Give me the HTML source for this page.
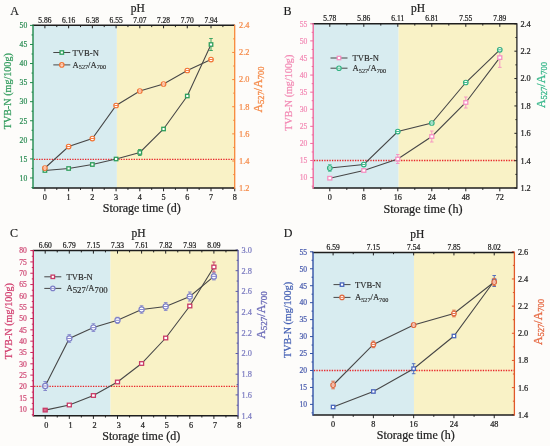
<!DOCTYPE html>
<html><head><meta charset="utf-8"><style>
html,body{margin:0;padding:0;background:#fff;}
svg{display:block;filter:blur(0.35px);}
</style></head><body>
<svg width="550" height="446" viewBox="0 0 550 446">
<rect width="550" height="446" fill="#fdfcfa"/>
<rect x="33" y="25.3" width="83.89" height="162.8" fill="#d8ecf0"/>
<rect x="116.89" y="25.3" width="117.81" height="162.8" fill="#f9f2c6"/>
<line x1="33.8" y1="159.39" x2="234.2" y2="159.39" stroke="#e8262a" stroke-width="1.35" stroke-dasharray="1.35 1.21"/>
<polyline points="44.9,170.5 68.63,168.5 92.36,164.5 116.09,159 139.82,152.5 163.55,129 187.28,96 211.01,44.5" fill="none" stroke="#474747" stroke-width="1.08"/>
<polyline points="44.9,168 68.63,146.5 92.36,138.5 116.09,105.5 139.82,91 163.55,84 187.28,70.5 211.01,59.5" fill="none" stroke="#474747" stroke-width="1.08"/>
<line x1="44.9" y1="169.7" x2="44.9" y2="171.3" stroke="#2e9e5c" stroke-width="0.9" />
<line x1="43.1" y1="169.7" x2="46.7" y2="169.7" stroke="#2e9e5c" stroke-width="0.9" />
<line x1="43.1" y1="171.3" x2="46.7" y2="171.3" stroke="#2e9e5c" stroke-width="0.9" />
<rect x="43.15" y="168.8" width="3.5" height="3.4" fill="#fff" stroke="#2e9e5c" stroke-width="1.3"/>
<rect x="66.88" y="166.8" width="3.5" height="3.4" fill="#fff" stroke="#2e9e5c" stroke-width="1.3"/>
<line x1="92.36" y1="163" x2="92.36" y2="166" stroke="#2e9e5c" stroke-width="0.9" />
<line x1="90.56" y1="163" x2="94.16" y2="163" stroke="#2e9e5c" stroke-width="0.9" />
<line x1="90.56" y1="166" x2="94.16" y2="166" stroke="#2e9e5c" stroke-width="0.9" />
<rect x="90.61" y="162.8" width="3.5" height="3.4" fill="#fff" stroke="#2e9e5c" stroke-width="1.3"/>
<rect x="114.34" y="157.3" width="3.5" height="3.4" fill="#fff" stroke="#2e9e5c" stroke-width="1.3"/>
<line x1="139.82" y1="149.5" x2="139.82" y2="155.5" stroke="#2e9e5c" stroke-width="0.9" />
<line x1="138.02" y1="149.5" x2="141.62" y2="149.5" stroke="#2e9e5c" stroke-width="0.9" />
<line x1="138.02" y1="155.5" x2="141.62" y2="155.5" stroke="#2e9e5c" stroke-width="0.9" />
<rect x="138.07" y="150.8" width="3.5" height="3.4" fill="#fff" stroke="#2e9e5c" stroke-width="1.3"/>
<rect x="161.8" y="127.3" width="3.5" height="3.4" fill="#fff" stroke="#2e9e5c" stroke-width="1.3"/>
<rect x="185.53" y="94.3" width="3.5" height="3.4" fill="#fff" stroke="#2e9e5c" stroke-width="1.3"/>
<line x1="211.01" y1="38.5" x2="211.01" y2="50.5" stroke="#2e9e5c" stroke-width="0.9" />
<line x1="209.21" y1="38.5" x2="212.81" y2="38.5" stroke="#2e9e5c" stroke-width="0.9" />
<line x1="209.21" y1="50.5" x2="212.81" y2="50.5" stroke="#2e9e5c" stroke-width="0.9" />
<rect x="209.26" y="42.8" width="3.5" height="3.4" fill="#fff" stroke="#2e9e5c" stroke-width="1.3"/>
<circle cx="44.9" cy="168" r="2.3" fill="#fff" stroke="#f27434" stroke-width="1.15"/>
<line x1="43" y1="168" x2="46.8" y2="168" stroke="#f27434" stroke-width="0.9" />
<circle cx="68.63" cy="146.5" r="2.3" fill="#fff" stroke="#f27434" stroke-width="1.15"/>
<line x1="66.73" y1="146.5" x2="70.53" y2="146.5" stroke="#f27434" stroke-width="0.9" />
<line x1="92.36" y1="137.3" x2="92.36" y2="139.7" stroke="#f27434" stroke-width="0.9" />
<line x1="90.56" y1="137.3" x2="94.16" y2="137.3" stroke="#f27434" stroke-width="0.9" />
<line x1="90.56" y1="139.7" x2="94.16" y2="139.7" stroke="#f27434" stroke-width="0.9" />
<circle cx="92.36" cy="138.5" r="2.3" fill="#fff" stroke="#f27434" stroke-width="1.15"/>
<line x1="90.46" y1="138.5" x2="94.26" y2="138.5" stroke="#f27434" stroke-width="0.9" />
<line x1="116.09" y1="104" x2="116.09" y2="107" stroke="#f27434" stroke-width="0.9" />
<line x1="114.29" y1="104" x2="117.89" y2="104" stroke="#f27434" stroke-width="0.9" />
<line x1="114.29" y1="107" x2="117.89" y2="107" stroke="#f27434" stroke-width="0.9" />
<circle cx="116.09" cy="105.5" r="2.3" fill="#fff" stroke="#f27434" stroke-width="1.15"/>
<line x1="114.19" y1="105.5" x2="117.99" y2="105.5" stroke="#f27434" stroke-width="0.9" />
<circle cx="139.82" cy="91" r="2.3" fill="#fff" stroke="#f27434" stroke-width="1.15"/>
<line x1="137.92" y1="91" x2="141.72" y2="91" stroke="#f27434" stroke-width="0.9" />
<circle cx="163.55" cy="84" r="2.3" fill="#fff" stroke="#f27434" stroke-width="1.15"/>
<line x1="161.65" y1="84" x2="165.45" y2="84" stroke="#f27434" stroke-width="0.9" />
<line x1="187.28" y1="69" x2="187.28" y2="72" stroke="#f27434" stroke-width="0.9" />
<line x1="185.48" y1="69" x2="189.08" y2="69" stroke="#f27434" stroke-width="0.9" />
<line x1="185.48" y1="72" x2="189.08" y2="72" stroke="#f27434" stroke-width="0.9" />
<circle cx="187.28" cy="70.5" r="2.3" fill="#fff" stroke="#f27434" stroke-width="1.15"/>
<line x1="185.38" y1="70.5" x2="189.18" y2="70.5" stroke="#f27434" stroke-width="0.9" />
<circle cx="211.01" cy="59.5" r="2.3" fill="#fff" stroke="#f27434" stroke-width="1.15"/>
<line x1="209.11" y1="59.5" x2="212.91" y2="59.5" stroke="#f27434" stroke-width="0.9" />
<line x1="44.9" y1="188.1" x2="44.9" y2="191.3" stroke="#222" stroke-width="1" />
<text x="44.9" y="199.6" font-size="8.2" fill="#222" stroke="#222" stroke-width="0.22" text-anchor="middle" font-family='"Liberation Serif", serif' >0</text>
<line x1="68.63" y1="188.1" x2="68.63" y2="191.3" stroke="#222" stroke-width="1" />
<text x="68.63" y="199.6" font-size="8.2" fill="#222" stroke="#222" stroke-width="0.22" text-anchor="middle" font-family='"Liberation Serif", serif' >1</text>
<line x1="92.36" y1="188.1" x2="92.36" y2="191.3" stroke="#222" stroke-width="1" />
<text x="92.36" y="199.6" font-size="8.2" fill="#222" stroke="#222" stroke-width="0.22" text-anchor="middle" font-family='"Liberation Serif", serif' >2</text>
<line x1="116.09" y1="188.1" x2="116.09" y2="191.3" stroke="#222" stroke-width="1" />
<text x="116.09" y="199.6" font-size="8.2" fill="#222" stroke="#222" stroke-width="0.22" text-anchor="middle" font-family='"Liberation Serif", serif' >3</text>
<line x1="139.82" y1="188.1" x2="139.82" y2="191.3" stroke="#222" stroke-width="1" />
<text x="139.82" y="199.6" font-size="8.2" fill="#222" stroke="#222" stroke-width="0.22" text-anchor="middle" font-family='"Liberation Serif", serif' >4</text>
<line x1="163.55" y1="188.1" x2="163.55" y2="191.3" stroke="#222" stroke-width="1" />
<text x="163.55" y="199.6" font-size="8.2" fill="#222" stroke="#222" stroke-width="0.22" text-anchor="middle" font-family='"Liberation Serif", serif' >5</text>
<line x1="187.28" y1="188.1" x2="187.28" y2="191.3" stroke="#222" stroke-width="1" />
<text x="187.28" y="199.6" font-size="8.2" fill="#222" stroke="#222" stroke-width="0.22" text-anchor="middle" font-family='"Liberation Serif", serif' >6</text>
<line x1="211.01" y1="188.1" x2="211.01" y2="191.3" stroke="#222" stroke-width="1" />
<text x="211.01" y="199.6" font-size="8.2" fill="#222" stroke="#222" stroke-width="0.22" text-anchor="middle" font-family='"Liberation Serif", serif' >7</text>
<line x1="234.74" y1="188.1" x2="234.74" y2="191.3" stroke="#222" stroke-width="1" />
<text x="234.74" y="199.6" font-size="8.2" fill="#222" stroke="#222" stroke-width="0.22" text-anchor="middle" font-family='"Liberation Serif", serif' >8</text>
<line x1="56.77" y1="188.1" x2="56.77" y2="189.9" stroke="#222" stroke-width="1" />
<line x1="56.77" y1="25.3" x2="56.77" y2="27.1" stroke="#222" stroke-width="1" />
<line x1="80.5" y1="188.1" x2="80.5" y2="189.9" stroke="#222" stroke-width="1" />
<line x1="80.5" y1="25.3" x2="80.5" y2="27.1" stroke="#222" stroke-width="1" />
<line x1="104.23" y1="188.1" x2="104.23" y2="189.9" stroke="#222" stroke-width="1" />
<line x1="104.23" y1="25.3" x2="104.23" y2="27.1" stroke="#222" stroke-width="1" />
<line x1="127.95" y1="188.1" x2="127.95" y2="189.9" stroke="#222" stroke-width="1" />
<line x1="127.95" y1="25.3" x2="127.95" y2="27.1" stroke="#222" stroke-width="1" />
<line x1="151.69" y1="188.1" x2="151.69" y2="189.9" stroke="#222" stroke-width="1" />
<line x1="151.69" y1="25.3" x2="151.69" y2="27.1" stroke="#222" stroke-width="1" />
<line x1="175.41" y1="188.1" x2="175.41" y2="189.9" stroke="#222" stroke-width="1" />
<line x1="175.41" y1="25.3" x2="175.41" y2="27.1" stroke="#222" stroke-width="1" />
<line x1="199.15" y1="188.1" x2="199.15" y2="189.9" stroke="#222" stroke-width="1" />
<line x1="199.15" y1="25.3" x2="199.15" y2="27.1" stroke="#222" stroke-width="1" />
<line x1="222.88" y1="188.1" x2="222.88" y2="189.9" stroke="#222" stroke-width="1" />
<line x1="222.88" y1="25.3" x2="222.88" y2="27.1" stroke="#222" stroke-width="1" />
<line x1="44.9" y1="25.3" x2="44.9" y2="28.3" stroke="#222" stroke-width="1" />
<text x="44.9" y="22.8" font-size="7.5" fill="#222" stroke="#222" stroke-width="0.22" text-anchor="middle" font-family='"Liberation Serif", serif' >5.86</text>
<line x1="68.63" y1="25.3" x2="68.63" y2="28.3" stroke="#222" stroke-width="1" />
<text x="68.63" y="22.8" font-size="7.5" fill="#222" stroke="#222" stroke-width="0.22" text-anchor="middle" font-family='"Liberation Serif", serif' >6.16</text>
<line x1="92.36" y1="25.3" x2="92.36" y2="28.3" stroke="#222" stroke-width="1" />
<text x="92.36" y="22.8" font-size="7.5" fill="#222" stroke="#222" stroke-width="0.22" text-anchor="middle" font-family='"Liberation Serif", serif' >6.38</text>
<line x1="116.09" y1="25.3" x2="116.09" y2="28.3" stroke="#222" stroke-width="1" />
<text x="116.09" y="22.8" font-size="7.5" fill="#222" stroke="#222" stroke-width="0.22" text-anchor="middle" font-family='"Liberation Serif", serif' >6.55</text>
<line x1="139.82" y1="25.3" x2="139.82" y2="28.3" stroke="#222" stroke-width="1" />
<text x="139.82" y="22.8" font-size="7.5" fill="#222" stroke="#222" stroke-width="0.22" text-anchor="middle" font-family='"Liberation Serif", serif' >7.07</text>
<line x1="163.55" y1="25.3" x2="163.55" y2="28.3" stroke="#222" stroke-width="1" />
<text x="163.55" y="22.8" font-size="7.5" fill="#222" stroke="#222" stroke-width="0.22" text-anchor="middle" font-family='"Liberation Serif", serif' >7.28</text>
<line x1="187.28" y1="25.3" x2="187.28" y2="28.3" stroke="#222" stroke-width="1" />
<text x="187.28" y="22.8" font-size="7.5" fill="#222" stroke="#222" stroke-width="0.22" text-anchor="middle" font-family='"Liberation Serif", serif' >7.70</text>
<line x1="211.01" y1="25.3" x2="211.01" y2="28.3" stroke="#222" stroke-width="1" />
<text x="211.01" y="22.8" font-size="7.5" fill="#222" stroke="#222" stroke-width="0.22" text-anchor="middle" font-family='"Liberation Serif", serif' >7.94</text>
<line x1="30" y1="177.96" x2="33" y2="177.96" stroke="#1f8a4c" stroke-width="1" />
<text x="27.2" y="180.76" font-size="7.6" fill="#2e8e56" stroke="#2e8e56" stroke-width="0.22" text-anchor="end" font-family='"Liberation Serif", serif' >10</text>
<line x1="30" y1="158.89" x2="33" y2="158.89" stroke="#1f8a4c" stroke-width="1" />
<text x="27.2" y="161.69" font-size="7.6" fill="#2e8e56" stroke="#2e8e56" stroke-width="0.22" text-anchor="end" font-family='"Liberation Serif", serif' >15</text>
<line x1="30" y1="139.82" x2="33" y2="139.82" stroke="#1f8a4c" stroke-width="1" />
<text x="27.2" y="142.62" font-size="7.6" fill="#2e8e56" stroke="#2e8e56" stroke-width="0.22" text-anchor="end" font-family='"Liberation Serif", serif' >20</text>
<line x1="30" y1="120.75" x2="33" y2="120.75" stroke="#1f8a4c" stroke-width="1" />
<text x="27.2" y="123.55" font-size="7.6" fill="#2e8e56" stroke="#2e8e56" stroke-width="0.22" text-anchor="end" font-family='"Liberation Serif", serif' >25</text>
<line x1="30" y1="101.68" x2="33" y2="101.68" stroke="#1f8a4c" stroke-width="1" />
<text x="27.2" y="104.48" font-size="7.6" fill="#2e8e56" stroke="#2e8e56" stroke-width="0.22" text-anchor="end" font-family='"Liberation Serif", serif' >30</text>
<line x1="30" y1="82.61" x2="33" y2="82.61" stroke="#1f8a4c" stroke-width="1" />
<text x="27.2" y="85.41" font-size="7.6" fill="#2e8e56" stroke="#2e8e56" stroke-width="0.22" text-anchor="end" font-family='"Liberation Serif", serif' >35</text>
<line x1="30" y1="63.54" x2="33" y2="63.54" stroke="#1f8a4c" stroke-width="1" />
<text x="27.2" y="66.34" font-size="7.6" fill="#2e8e56" stroke="#2e8e56" stroke-width="0.22" text-anchor="end" font-family='"Liberation Serif", serif' >40</text>
<line x1="30" y1="44.47" x2="33" y2="44.47" stroke="#1f8a4c" stroke-width="1" />
<text x="27.2" y="47.27" font-size="7.6" fill="#2e8e56" stroke="#2e8e56" stroke-width="0.22" text-anchor="end" font-family='"Liberation Serif", serif' >45</text>
<line x1="30" y1="25.4" x2="33" y2="25.4" stroke="#1f8a4c" stroke-width="1" />
<text x="27.2" y="28.2" font-size="7.6" fill="#2e8e56" stroke="#2e8e56" stroke-width="0.22" text-anchor="end" font-family='"Liberation Serif", serif' >50</text>
<line x1="31.5" y1="187.5" x2="33" y2="187.5" stroke="#1f8a4c" stroke-width="1" />
<line x1="31.5" y1="168.43" x2="33" y2="168.43" stroke="#1f8a4c" stroke-width="1" />
<line x1="31.5" y1="149.35" x2="33" y2="149.35" stroke="#1f8a4c" stroke-width="1" />
<line x1="31.5" y1="130.28" x2="33" y2="130.28" stroke="#1f8a4c" stroke-width="1" />
<line x1="31.5" y1="111.22" x2="33" y2="111.22" stroke="#1f8a4c" stroke-width="1" />
<line x1="31.5" y1="92.15" x2="33" y2="92.15" stroke="#1f8a4c" stroke-width="1" />
<line x1="31.5" y1="73.07" x2="33" y2="73.07" stroke="#1f8a4c" stroke-width="1" />
<line x1="31.5" y1="54" x2="33" y2="54" stroke="#1f8a4c" stroke-width="1" />
<line x1="31.5" y1="34.94" x2="33" y2="34.94" stroke="#1f8a4c" stroke-width="1" />
<line x1="232.2" y1="188.14" x2="234.7" y2="188.14" stroke="#f7883a" stroke-width="1" />
<text x="239" y="191.04" font-size="8.3" fill="#f58a48" stroke="#f58a48" stroke-width="0.22" text-anchor="start" font-family='"Liberation Serif", serif' >1.2</text>
<line x1="232.2" y1="161" x2="234.7" y2="161" stroke="#f7883a" stroke-width="1" />
<text x="239" y="163.9" font-size="8.3" fill="#f58a48" stroke="#f58a48" stroke-width="0.22" text-anchor="start" font-family='"Liberation Serif", serif' >1.4</text>
<line x1="232.2" y1="133.86" x2="234.7" y2="133.86" stroke="#f7883a" stroke-width="1" />
<text x="239" y="136.76" font-size="8.3" fill="#f58a48" stroke="#f58a48" stroke-width="0.22" text-anchor="start" font-family='"Liberation Serif", serif' >1.6</text>
<line x1="232.2" y1="106.72" x2="234.7" y2="106.72" stroke="#f7883a" stroke-width="1" />
<text x="239" y="109.62" font-size="8.3" fill="#f58a48" stroke="#f58a48" stroke-width="0.22" text-anchor="start" font-family='"Liberation Serif", serif' >1.8</text>
<line x1="232.2" y1="79.58" x2="234.7" y2="79.58" stroke="#f7883a" stroke-width="1" />
<text x="239" y="82.48" font-size="8.3" fill="#f58a48" stroke="#f58a48" stroke-width="0.22" text-anchor="start" font-family='"Liberation Serif", serif' >2.0</text>
<line x1="232.2" y1="52.44" x2="234.7" y2="52.44" stroke="#f7883a" stroke-width="1" />
<text x="239" y="55.34" font-size="8.3" fill="#f58a48" stroke="#f58a48" stroke-width="0.22" text-anchor="start" font-family='"Liberation Serif", serif' >2.2</text>
<line x1="232.2" y1="25.3" x2="234.7" y2="25.3" stroke="#f7883a" stroke-width="1" />
<text x="239" y="28.2" font-size="8.3" fill="#f58a48" stroke="#f58a48" stroke-width="0.22" text-anchor="start" font-family='"Liberation Serif", serif' >2.4</text>
<line x1="233.2" y1="174.57" x2="234.7" y2="174.57" stroke="#f7883a" stroke-width="1" />
<line x1="233.2" y1="147.43" x2="234.7" y2="147.43" stroke="#f7883a" stroke-width="1" />
<line x1="233.2" y1="120.29" x2="234.7" y2="120.29" stroke="#f7883a" stroke-width="1" />
<line x1="233.2" y1="93.15" x2="234.7" y2="93.15" stroke="#f7883a" stroke-width="1" />
<line x1="233.2" y1="66.01" x2="234.7" y2="66.01" stroke="#f7883a" stroke-width="1" />
<line x1="233.2" y1="38.87" x2="234.7" y2="38.87" stroke="#f7883a" stroke-width="1" />
<line x1="32.5" y1="25.3" x2="234.7" y2="25.3" stroke="#1e1e1e" stroke-width="1.5" />
<line x1="32.5" y1="188.1" x2="234.7" y2="188.1" stroke="#1e1e1e" stroke-width="1.5" />
<line x1="33" y1="24.7" x2="33" y2="188.7" stroke="#1f8a4c" stroke-width="1.4" />
<line x1="234.7" y1="24.7" x2="234.7" y2="188.7" stroke="#f7883a" stroke-width="1.3" />
<text x="11.3" y="91.2" font-size="10.1" fill="#2e9a5a" stroke="#2e9a5a" stroke-width="0.22" text-anchor="middle" font-family='"Liberation Serif", serif' transform="rotate(-90 11.3 91.2)">TVB-N (mg/100g)</text>
<text x="261.5" y="89.5" font-size="12" fill="#f58a48" stroke="#f58a48" stroke-width="0.3" text-anchor="middle" font-family='"Liberation Serif", serif' transform="rotate(-90 261.5 89.5)">A<tspan font-size="8.5" dy="2.8">527</tspan><tspan dy="-2.8">/A</tspan><tspan font-size="8.5" dy="2.8">700</tspan></text>
<text x="137.8" y="12.4" font-size="11.5" fill="#222" stroke="#222" stroke-width="0.22" text-anchor="middle" font-family='"Liberation Serif", serif' >pH</text>
<text x="141.7" y="211.7" font-size="12" fill="#222" stroke="#222" stroke-width="0.22" text-anchor="middle" font-family='"Liberation Serif", serif' >Storage time (d)</text>
<text x="10.3" y="14.6" font-size="12" fill="#1a1a1a" stroke="#1a1a1a" stroke-width="0.15" text-anchor="start" font-family='"Liberation Serif", serif' >A</text>
<line x1="53.3" y1="52.5" x2="70.3" y2="52.5" stroke="#474747" stroke-width="1" />
<rect x="60.05" y="50.8" width="3.5" height="3.4" fill="#fff" stroke="#2e9e5c" stroke-width="1.3"/>
<text x="72.6" y="55.5" font-size="8.6" fill="#2a2a2a" stroke="#2a2a2a" stroke-width="0.15" text-anchor="start" font-family='"Liberation Serif", serif' >TVB-N</text>
<line x1="53.3" y1="64.9" x2="70.3" y2="64.9" stroke="#474747" stroke-width="1" />
<circle cx="61.8" cy="64.9" r="2.2" fill="#fff" stroke="#f27434" stroke-width="1.2"/>
<line x1="60" y1="64.9" x2="63.6" y2="64.9" stroke="#f27434" stroke-width="0.8" />
<text x="72.6" y="67.8" font-size="8.6" fill="#2a2a2a" stroke="#2a2a2a" stroke-width="0.15" font-family='"Liberation Serif", serif'>A<tspan font-size="6.2" dy="1.4">527</tspan><tspan dy="-1.4">/A</tspan><tspan font-size="6.2" dy="1.4">700</tspan></text>
<rect x="313.2" y="23.8" width="85.4" height="164.3" fill="#d8ecf0"/>
<rect x="398.6" y="23.8" width="118.3" height="164.3" fill="#f9f2c6"/>
<line x1="314" y1="160.52" x2="516.4" y2="160.52" stroke="#e8262a" stroke-width="1.35" stroke-dasharray="1.35 1.21"/>
<polyline points="329.8,178.2 363.8,170.5 397.8,159 431.8,136.5 465.8,102.5 499.8,57.6" fill="none" stroke="#474747" stroke-width="1.08"/>
<polyline points="329.8,168 363.8,164.5 397.8,131.5 431.8,123 465.8,82.5 499.8,49.8" fill="none" stroke="#474747" stroke-width="1.08"/>
<rect x="327.8" y="176.45" width="4.0" height="3.5" fill="#fff" stroke="#f590c2" stroke-width="1.3"/>
<rect x="361.8" y="168.75" width="4.0" height="3.5" fill="#fff" stroke="#f590c2" stroke-width="1.3"/>
<line x1="397.8" y1="154.5" x2="397.8" y2="163.5" stroke="#f590c2" stroke-width="0.9" />
<line x1="396" y1="154.5" x2="399.6" y2="154.5" stroke="#f590c2" stroke-width="0.9" />
<line x1="396" y1="163.5" x2="399.6" y2="163.5" stroke="#f590c2" stroke-width="0.9" />
<rect x="395.8" y="157.25" width="4.0" height="3.5" fill="#fff" stroke="#f590c2" stroke-width="1.3"/>
<line x1="431.8" y1="131" x2="431.8" y2="142" stroke="#f590c2" stroke-width="0.9" />
<line x1="430" y1="131" x2="433.6" y2="131" stroke="#f590c2" stroke-width="0.9" />
<line x1="430" y1="142" x2="433.6" y2="142" stroke="#f590c2" stroke-width="0.9" />
<rect x="429.8" y="134.75" width="4.0" height="3.5" fill="#fff" stroke="#f590c2" stroke-width="1.3"/>
<line x1="465.8" y1="97" x2="465.8" y2="108" stroke="#f590c2" stroke-width="0.9" />
<line x1="464" y1="97" x2="467.6" y2="97" stroke="#f590c2" stroke-width="0.9" />
<line x1="464" y1="108" x2="467.6" y2="108" stroke="#f590c2" stroke-width="0.9" />
<rect x="463.8" y="100.75" width="4.0" height="3.5" fill="#fff" stroke="#f590c2" stroke-width="1.3"/>
<line x1="499.8" y1="47.8" x2="499.8" y2="67.4" stroke="#f590c2" stroke-width="0.9" />
<line x1="498" y1="47.8" x2="501.6" y2="47.8" stroke="#f590c2" stroke-width="0.9" />
<line x1="498" y1="67.4" x2="501.6" y2="67.4" stroke="#f590c2" stroke-width="0.9" />
<rect x="497.8" y="55.85" width="4.0" height="3.5" fill="#fff" stroke="#f590c2" stroke-width="1.3"/>
<line x1="329.8" y1="164.8" x2="329.8" y2="171.2" stroke="#32b282" stroke-width="0.9" />
<line x1="328" y1="164.8" x2="331.6" y2="164.8" stroke="#32b282" stroke-width="0.9" />
<line x1="328" y1="171.2" x2="331.6" y2="171.2" stroke="#32b282" stroke-width="0.9" />
<circle cx="329.8" cy="168" r="2.3" fill="#fff" stroke="#32b282" stroke-width="1.15"/>
<line x1="327.9" y1="168" x2="331.7" y2="168" stroke="#32b282" stroke-width="0.9" />
<line x1="363.8" y1="163" x2="363.8" y2="166" stroke="#32b282" stroke-width="0.9" />
<line x1="362" y1="163" x2="365.6" y2="163" stroke="#32b282" stroke-width="0.9" />
<line x1="362" y1="166" x2="365.6" y2="166" stroke="#32b282" stroke-width="0.9" />
<circle cx="363.8" cy="164.5" r="2.3" fill="#fff" stroke="#32b282" stroke-width="1.15"/>
<line x1="361.9" y1="164.5" x2="365.7" y2="164.5" stroke="#32b282" stroke-width="0.9" />
<circle cx="397.8" cy="131.5" r="2.3" fill="#fff" stroke="#32b282" stroke-width="1.15"/>
<line x1="395.9" y1="131.5" x2="399.7" y2="131.5" stroke="#32b282" stroke-width="0.9" />
<circle cx="431.8" cy="123" r="2.3" fill="#fff" stroke="#32b282" stroke-width="1.15"/>
<line x1="429.9" y1="123" x2="433.7" y2="123" stroke="#32b282" stroke-width="0.9" />
<circle cx="465.8" cy="82.5" r="2.3" fill="#fff" stroke="#32b282" stroke-width="1.15"/>
<line x1="463.9" y1="82.5" x2="467.7" y2="82.5" stroke="#32b282" stroke-width="0.9" />
<circle cx="499.8" cy="49.8" r="2.3" fill="#fff" stroke="#32b282" stroke-width="1.15"/>
<line x1="497.9" y1="49.8" x2="501.7" y2="49.8" stroke="#32b282" stroke-width="0.9" />
<line x1="329.8" y1="188.1" x2="329.8" y2="191.3" stroke="#222" stroke-width="1" />
<text x="329.8" y="199.6" font-size="8.2" fill="#222" stroke="#222" stroke-width="0.22" text-anchor="middle" font-family='"Liberation Serif", serif' >0</text>
<line x1="363.8" y1="188.1" x2="363.8" y2="191.3" stroke="#222" stroke-width="1" />
<text x="363.8" y="199.6" font-size="8.2" fill="#222" stroke="#222" stroke-width="0.22" text-anchor="middle" font-family='"Liberation Serif", serif' >8</text>
<line x1="397.8" y1="188.1" x2="397.8" y2="191.3" stroke="#222" stroke-width="1" />
<text x="397.8" y="199.6" font-size="8.2" fill="#222" stroke="#222" stroke-width="0.22" text-anchor="middle" font-family='"Liberation Serif", serif' >16</text>
<line x1="431.8" y1="188.1" x2="431.8" y2="191.3" stroke="#222" stroke-width="1" />
<text x="431.8" y="199.6" font-size="8.2" fill="#222" stroke="#222" stroke-width="0.22" text-anchor="middle" font-family='"Liberation Serif", serif' >24</text>
<line x1="465.8" y1="188.1" x2="465.8" y2="191.3" stroke="#222" stroke-width="1" />
<text x="465.8" y="199.6" font-size="8.2" fill="#222" stroke="#222" stroke-width="0.22" text-anchor="middle" font-family='"Liberation Serif", serif' >48</text>
<line x1="499.8" y1="188.1" x2="499.8" y2="191.3" stroke="#222" stroke-width="1" />
<text x="499.8" y="199.6" font-size="8.2" fill="#222" stroke="#222" stroke-width="0.22" text-anchor="middle" font-family='"Liberation Serif", serif' >72</text>
<line x1="346.8" y1="188.1" x2="346.8" y2="189.9" stroke="#222" stroke-width="1" />
<line x1="346.8" y1="23.8" x2="346.8" y2="25.6" stroke="#222" stroke-width="1" />
<line x1="380.8" y1="188.1" x2="380.8" y2="189.9" stroke="#222" stroke-width="1" />
<line x1="380.8" y1="23.8" x2="380.8" y2="25.6" stroke="#222" stroke-width="1" />
<line x1="414.8" y1="188.1" x2="414.8" y2="189.9" stroke="#222" stroke-width="1" />
<line x1="414.8" y1="23.8" x2="414.8" y2="25.6" stroke="#222" stroke-width="1" />
<line x1="448.8" y1="188.1" x2="448.8" y2="189.9" stroke="#222" stroke-width="1" />
<line x1="448.8" y1="23.8" x2="448.8" y2="25.6" stroke="#222" stroke-width="1" />
<line x1="482.8" y1="188.1" x2="482.8" y2="189.9" stroke="#222" stroke-width="1" />
<line x1="482.8" y1="23.8" x2="482.8" y2="25.6" stroke="#222" stroke-width="1" />
<line x1="329.8" y1="23.8" x2="329.8" y2="26.8" stroke="#222" stroke-width="1" />
<text x="329.8" y="21.3" font-size="7.5" fill="#222" stroke="#222" stroke-width="0.22" text-anchor="middle" font-family='"Liberation Serif", serif' >5.78</text>
<line x1="363.8" y1="23.8" x2="363.8" y2="26.8" stroke="#222" stroke-width="1" />
<text x="363.8" y="21.3" font-size="7.5" fill="#222" stroke="#222" stroke-width="0.22" text-anchor="middle" font-family='"Liberation Serif", serif' >5.86</text>
<line x1="397.8" y1="23.8" x2="397.8" y2="26.8" stroke="#222" stroke-width="1" />
<text x="397.8" y="21.3" font-size="7.5" fill="#222" stroke="#222" stroke-width="0.22" text-anchor="middle" font-family='"Liberation Serif", serif' >6.11</text>
<line x1="431.8" y1="23.8" x2="431.8" y2="26.8" stroke="#222" stroke-width="1" />
<text x="431.8" y="21.3" font-size="7.5" fill="#222" stroke="#222" stroke-width="0.22" text-anchor="middle" font-family='"Liberation Serif", serif' >6.81</text>
<line x1="465.8" y1="23.8" x2="465.8" y2="26.8" stroke="#222" stroke-width="1" />
<text x="465.8" y="21.3" font-size="7.5" fill="#222" stroke="#222" stroke-width="0.22" text-anchor="middle" font-family='"Liberation Serif", serif' >7.55</text>
<line x1="499.8" y1="23.8" x2="499.8" y2="26.8" stroke="#222" stroke-width="1" />
<text x="499.8" y="21.3" font-size="7.5" fill="#222" stroke="#222" stroke-width="0.22" text-anchor="middle" font-family='"Liberation Serif", serif' >7.89</text>
<line x1="310.2" y1="177.61" x2="313.2" y2="177.61" stroke="#f0689e" stroke-width="1" />
<text x="307.4" y="180.41" font-size="7.6" fill="#f38cb6" stroke="#f38cb6" stroke-width="0.22" text-anchor="end" font-family='"Liberation Serif", serif' >10</text>
<line x1="310.2" y1="160.52" x2="313.2" y2="160.52" stroke="#f0689e" stroke-width="1" />
<text x="307.4" y="163.32" font-size="7.6" fill="#f38cb6" stroke="#f38cb6" stroke-width="0.22" text-anchor="end" font-family='"Liberation Serif", serif' >15</text>
<line x1="310.2" y1="143.43" x2="313.2" y2="143.43" stroke="#f0689e" stroke-width="1" />
<text x="307.4" y="146.23" font-size="7.6" fill="#f38cb6" stroke="#f38cb6" stroke-width="0.22" text-anchor="end" font-family='"Liberation Serif", serif' >20</text>
<line x1="310.2" y1="126.34" x2="313.2" y2="126.34" stroke="#f0689e" stroke-width="1" />
<text x="307.4" y="129.14" font-size="7.6" fill="#f38cb6" stroke="#f38cb6" stroke-width="0.22" text-anchor="end" font-family='"Liberation Serif", serif' >25</text>
<line x1="310.2" y1="109.25" x2="313.2" y2="109.25" stroke="#f0689e" stroke-width="1" />
<text x="307.4" y="112.05" font-size="7.6" fill="#f38cb6" stroke="#f38cb6" stroke-width="0.22" text-anchor="end" font-family='"Liberation Serif", serif' >30</text>
<line x1="310.2" y1="92.16" x2="313.2" y2="92.16" stroke="#f0689e" stroke-width="1" />
<text x="307.4" y="94.96" font-size="7.6" fill="#f38cb6" stroke="#f38cb6" stroke-width="0.22" text-anchor="end" font-family='"Liberation Serif", serif' >35</text>
<line x1="310.2" y1="75.07" x2="313.2" y2="75.07" stroke="#f0689e" stroke-width="1" />
<text x="307.4" y="77.87" font-size="7.6" fill="#f38cb6" stroke="#f38cb6" stroke-width="0.22" text-anchor="end" font-family='"Liberation Serif", serif' >40</text>
<line x1="310.2" y1="57.98" x2="313.2" y2="57.98" stroke="#f0689e" stroke-width="1" />
<text x="307.4" y="60.78" font-size="7.6" fill="#f38cb6" stroke="#f38cb6" stroke-width="0.22" text-anchor="end" font-family='"Liberation Serif", serif' >45</text>
<line x1="310.2" y1="40.89" x2="313.2" y2="40.89" stroke="#f0689e" stroke-width="1" />
<text x="307.4" y="43.69" font-size="7.6" fill="#f38cb6" stroke="#f38cb6" stroke-width="0.22" text-anchor="end" font-family='"Liberation Serif", serif' >50</text>
<line x1="310.2" y1="23.8" x2="313.2" y2="23.8" stroke="#f0689e" stroke-width="1" />
<text x="307.4" y="26.6" font-size="7.6" fill="#f38cb6" stroke="#f38cb6" stroke-width="0.22" text-anchor="end" font-family='"Liberation Serif", serif' >55</text>
<line x1="311.7" y1="186.16" x2="313.2" y2="186.16" stroke="#f0689e" stroke-width="1" />
<line x1="311.7" y1="169.07" x2="313.2" y2="169.07" stroke="#f0689e" stroke-width="1" />
<line x1="311.7" y1="151.98" x2="313.2" y2="151.98" stroke="#f0689e" stroke-width="1" />
<line x1="311.7" y1="134.89" x2="313.2" y2="134.89" stroke="#f0689e" stroke-width="1" />
<line x1="311.7" y1="117.8" x2="313.2" y2="117.8" stroke="#f0689e" stroke-width="1" />
<line x1="311.7" y1="100.7" x2="313.2" y2="100.7" stroke="#f0689e" stroke-width="1" />
<line x1="311.7" y1="83.62" x2="313.2" y2="83.62" stroke="#f0689e" stroke-width="1" />
<line x1="311.7" y1="66.53" x2="313.2" y2="66.53" stroke="#f0689e" stroke-width="1" />
<line x1="311.7" y1="49.44" x2="313.2" y2="49.44" stroke="#f0689e" stroke-width="1" />
<line x1="311.7" y1="32.34" x2="313.2" y2="32.34" stroke="#f0689e" stroke-width="1" />
<line x1="514.4" y1="188.08" x2="516.9" y2="188.08" stroke="#222" stroke-width="1" />
<text x="520.4" y="190.98" font-size="8.3" fill="#222" stroke="#222" stroke-width="0.22" text-anchor="start" font-family='"Liberation Serif", serif' >1.2</text>
<line x1="514.4" y1="160.7" x2="516.9" y2="160.7" stroke="#222" stroke-width="1" />
<text x="520.4" y="163.6" font-size="8.3" fill="#222" stroke="#222" stroke-width="0.22" text-anchor="start" font-family='"Liberation Serif", serif' >1.4</text>
<line x1="514.4" y1="133.32" x2="516.9" y2="133.32" stroke="#222" stroke-width="1" />
<text x="520.4" y="136.22" font-size="8.3" fill="#222" stroke="#222" stroke-width="0.22" text-anchor="start" font-family='"Liberation Serif", serif' >1.6</text>
<line x1="514.4" y1="105.94" x2="516.9" y2="105.94" stroke="#222" stroke-width="1" />
<text x="520.4" y="108.84" font-size="8.3" fill="#222" stroke="#222" stroke-width="0.22" text-anchor="start" font-family='"Liberation Serif", serif' >1.8</text>
<line x1="514.4" y1="78.56" x2="516.9" y2="78.56" stroke="#222" stroke-width="1" />
<text x="520.4" y="81.46" font-size="8.3" fill="#222" stroke="#222" stroke-width="0.22" text-anchor="start" font-family='"Liberation Serif", serif' >2.0</text>
<line x1="514.4" y1="51.18" x2="516.9" y2="51.18" stroke="#222" stroke-width="1" />
<text x="520.4" y="54.08" font-size="8.3" fill="#222" stroke="#222" stroke-width="0.22" text-anchor="start" font-family='"Liberation Serif", serif' >2.2</text>
<line x1="514.4" y1="23.8" x2="516.9" y2="23.8" stroke="#222" stroke-width="1" />
<text x="520.4" y="26.7" font-size="8.3" fill="#222" stroke="#222" stroke-width="0.22" text-anchor="start" font-family='"Liberation Serif", serif' >2.4</text>
<line x1="515.4" y1="174.39" x2="516.9" y2="174.39" stroke="#222" stroke-width="1" />
<line x1="515.4" y1="147.01" x2="516.9" y2="147.01" stroke="#222" stroke-width="1" />
<line x1="515.4" y1="119.63" x2="516.9" y2="119.63" stroke="#222" stroke-width="1" />
<line x1="515.4" y1="92.25" x2="516.9" y2="92.25" stroke="#222" stroke-width="1" />
<line x1="515.4" y1="64.87" x2="516.9" y2="64.87" stroke="#222" stroke-width="1" />
<line x1="515.4" y1="37.49" x2="516.9" y2="37.49" stroke="#222" stroke-width="1" />
<line x1="312.7" y1="23.8" x2="516.9" y2="23.8" stroke="#1e1e1e" stroke-width="1.5" />
<line x1="312.7" y1="188.1" x2="516.9" y2="188.1" stroke="#1e1e1e" stroke-width="1.5" />
<line x1="313.2" y1="23.2" x2="313.2" y2="188.7" stroke="#f0689e" stroke-width="1.4" />
<line x1="516.9" y1="23.2" x2="516.9" y2="188.7" stroke="#222" stroke-width="1.3" />
<text x="292" y="92.7" font-size="10.1" fill="#f28ab4" stroke="#f28ab4" stroke-width="0.22" text-anchor="middle" font-family='"Liberation Serif", serif' transform="rotate(-90 292 92.7)">TVB-N (mg/100g)</text>
<text x="545" y="85" font-size="12" fill="#3ab88c" stroke="#3ab88c" stroke-width="0.3" text-anchor="middle" font-family='"Liberation Serif", serif' transform="rotate(-90 545 85)">A<tspan font-size="8.5" dy="2.2">527</tspan><tspan dy="-2.2">/A</tspan><tspan font-size="8.5" dy="2.2">700</tspan></text>
<text x="418.1" y="12.4" font-size="11.5" fill="#222" stroke="#222" stroke-width="0.22" text-anchor="middle" font-family='"Liberation Serif", serif' >pH</text>
<text x="423" y="213.4" font-size="12.2" fill="#222" stroke="#222" stroke-width="0.22" text-anchor="middle" font-family='"Liberation Serif", serif' >Storage time (h)</text>
<text x="283.6" y="14.8" font-size="12" fill="#1a1a1a" stroke="#1a1a1a" stroke-width="0.15" text-anchor="start" font-family='"Liberation Serif", serif' >B</text>
<line x1="330.5" y1="58" x2="347.5" y2="58" stroke="#474747" stroke-width="1" />
<rect x="337.25" y="56.3" width="3.5" height="3.4" fill="#fff" stroke="#f590c2" stroke-width="1.3"/>
<text x="352.6" y="61" font-size="8.6" fill="#2a2a2a" stroke="#2a2a2a" stroke-width="0.15" text-anchor="start" font-family='"Liberation Serif", serif' >TVB-N</text>
<line x1="330.5" y1="68.2" x2="347.5" y2="68.2" stroke="#474747" stroke-width="1" />
<circle cx="339" cy="68.2" r="2.2" fill="#fff" stroke="#32b282" stroke-width="1.2"/>
<line x1="337.2" y1="68.2" x2="340.8" y2="68.2" stroke="#32b282" stroke-width="0.8" />
<text x="352.6" y="71.1" font-size="8.6" fill="#2a2a2a" stroke="#2a2a2a" stroke-width="0.15" font-family='"Liberation Serif", serif'>A<tspan font-size="6.2" dy="1.4">527</tspan><tspan dy="-1.4">/A</tspan><tspan font-size="6.2" dy="1.4">700</tspan></text>
<rect x="33.3" y="250.6" width="77.2" height="165.1" fill="#d8ecf0"/>
<rect x="110.5" y="250.6" width="127.6" height="165.1" fill="#f9f2c6"/>
<line x1="34.1" y1="386.44" x2="237.6" y2="386.44" stroke="#e8262a" stroke-width="1.35" stroke-dasharray="1.35 1.21"/>
<polyline points="45.2,410.1 69.3,405 93.4,395.5 117.5,382 141.6,363.5 165.7,338 189.8,306 213.9,267" fill="none" stroke="#474747" stroke-width="1.08"/>
<polyline points="45.2,386 69.3,338.5 93.4,327.6 117.5,320.3 141.6,309.5 165.7,306.5 189.8,296.5 213.9,276.4" fill="none" stroke="#474747" stroke-width="1.08"/>
<rect x="43.2" y="408.3" width="4.0" height="3.6" fill="#d86a8c" stroke="#c83a66" stroke-width="1.3"/>
<rect x="67.3" y="403.2" width="4.0" height="3.6" fill="#fff" stroke="#c83a66" stroke-width="1.3"/>
<rect x="91.4" y="393.7" width="4.0" height="3.6" fill="#fff" stroke="#c83a66" stroke-width="1.3"/>
<rect x="115.5" y="380.2" width="4.0" height="3.6" fill="#fff" stroke="#c83a66" stroke-width="1.3"/>
<rect x="139.6" y="361.7" width="4.0" height="3.6" fill="#fff" stroke="#c83a66" stroke-width="1.3"/>
<rect x="163.7" y="336.2" width="4.0" height="3.6" fill="#fff" stroke="#c83a66" stroke-width="1.3"/>
<line x1="189.8" y1="304.5" x2="189.8" y2="307.5" stroke="#c83a66" stroke-width="0.9" />
<line x1="188" y1="304.5" x2="191.6" y2="304.5" stroke="#c83a66" stroke-width="0.9" />
<line x1="188" y1="307.5" x2="191.6" y2="307.5" stroke="#c83a66" stroke-width="0.9" />
<rect x="187.8" y="304.2" width="4.0" height="3.6" fill="#fff" stroke="#c83a66" stroke-width="1.3"/>
<line x1="213.9" y1="262" x2="213.9" y2="272" stroke="#c83a66" stroke-width="0.9" />
<line x1="212.1" y1="262" x2="215.7" y2="262" stroke="#c83a66" stroke-width="0.9" />
<line x1="212.1" y1="272" x2="215.7" y2="272" stroke="#c83a66" stroke-width="0.9" />
<rect x="211.9" y="265.2" width="4.0" height="3.6" fill="#fff" stroke="#c83a66" stroke-width="1.3"/>
<line x1="45.2" y1="381.5" x2="45.2" y2="390.5" stroke="#7e80c8" stroke-width="0.9" />
<line x1="43.4" y1="381.5" x2="47" y2="381.5" stroke="#7e80c8" stroke-width="0.9" />
<line x1="43.4" y1="390.5" x2="47" y2="390.5" stroke="#7e80c8" stroke-width="0.9" />
<circle cx="45.2" cy="386" r="2.6" fill="#fff" stroke="#7e80c8" stroke-width="1.15"/>
<line x1="43" y1="386" x2="47.4" y2="386" stroke="#7e80c8" stroke-width="0.9" />
<line x1="69.3" y1="334.7" x2="69.3" y2="342.3" stroke="#7e80c8" stroke-width="0.9" />
<line x1="67.5" y1="334.7" x2="71.1" y2="334.7" stroke="#7e80c8" stroke-width="0.9" />
<line x1="67.5" y1="342.3" x2="71.1" y2="342.3" stroke="#7e80c8" stroke-width="0.9" />
<circle cx="69.3" cy="338.5" r="2.6" fill="#fff" stroke="#7e80c8" stroke-width="1.15"/>
<line x1="67.1" y1="338.5" x2="71.5" y2="338.5" stroke="#7e80c8" stroke-width="0.9" />
<line x1="93.4" y1="323.8" x2="93.4" y2="331.4" stroke="#7e80c8" stroke-width="0.9" />
<line x1="91.6" y1="323.8" x2="95.2" y2="323.8" stroke="#7e80c8" stroke-width="0.9" />
<line x1="91.6" y1="331.4" x2="95.2" y2="331.4" stroke="#7e80c8" stroke-width="0.9" />
<circle cx="93.4" cy="327.6" r="2.6" fill="#fff" stroke="#7e80c8" stroke-width="1.15"/>
<line x1="91.2" y1="327.6" x2="95.6" y2="327.6" stroke="#7e80c8" stroke-width="0.9" />
<line x1="117.5" y1="317.3" x2="117.5" y2="323.3" stroke="#7e80c8" stroke-width="0.9" />
<line x1="115.7" y1="317.3" x2="119.3" y2="317.3" stroke="#7e80c8" stroke-width="0.9" />
<line x1="115.7" y1="323.3" x2="119.3" y2="323.3" stroke="#7e80c8" stroke-width="0.9" />
<circle cx="117.5" cy="320.3" r="2.6" fill="#fff" stroke="#7e80c8" stroke-width="1.15"/>
<line x1="115.3" y1="320.3" x2="119.7" y2="320.3" stroke="#7e80c8" stroke-width="0.9" />
<line x1="141.6" y1="305.8" x2="141.6" y2="313.2" stroke="#7e80c8" stroke-width="0.9" />
<line x1="139.8" y1="305.8" x2="143.4" y2="305.8" stroke="#7e80c8" stroke-width="0.9" />
<line x1="139.8" y1="313.2" x2="143.4" y2="313.2" stroke="#7e80c8" stroke-width="0.9" />
<circle cx="141.6" cy="309.5" r="2.6" fill="#fff" stroke="#7e80c8" stroke-width="1.15"/>
<line x1="139.4" y1="309.5" x2="143.8" y2="309.5" stroke="#7e80c8" stroke-width="0.9" />
<line x1="165.7" y1="302.6" x2="165.7" y2="310.4" stroke="#7e80c8" stroke-width="0.9" />
<line x1="163.9" y1="302.6" x2="167.5" y2="302.6" stroke="#7e80c8" stroke-width="0.9" />
<line x1="163.9" y1="310.4" x2="167.5" y2="310.4" stroke="#7e80c8" stroke-width="0.9" />
<circle cx="165.7" cy="306.5" r="2.6" fill="#fff" stroke="#7e80c8" stroke-width="1.15"/>
<line x1="163.5" y1="306.5" x2="167.9" y2="306.5" stroke="#7e80c8" stroke-width="0.9" />
<line x1="189.8" y1="292" x2="189.8" y2="301" stroke="#7e80c8" stroke-width="0.9" />
<line x1="188" y1="292" x2="191.6" y2="292" stroke="#7e80c8" stroke-width="0.9" />
<line x1="188" y1="301" x2="191.6" y2="301" stroke="#7e80c8" stroke-width="0.9" />
<circle cx="189.8" cy="296.5" r="2.6" fill="#fff" stroke="#7e80c8" stroke-width="1.15"/>
<line x1="187.6" y1="296.5" x2="192" y2="296.5" stroke="#7e80c8" stroke-width="0.9" />
<line x1="213.9" y1="272.9" x2="213.9" y2="279.9" stroke="#7e80c8" stroke-width="0.9" />
<line x1="212.1" y1="272.9" x2="215.7" y2="272.9" stroke="#7e80c8" stroke-width="0.9" />
<line x1="212.1" y1="279.9" x2="215.7" y2="279.9" stroke="#7e80c8" stroke-width="0.9" />
<circle cx="213.9" cy="276.4" r="2.6" fill="#fff" stroke="#7e80c8" stroke-width="1.15"/>
<line x1="211.7" y1="276.4" x2="216.1" y2="276.4" stroke="#7e80c8" stroke-width="0.9" />
<line x1="45.2" y1="415.7" x2="45.2" y2="418.9" stroke="#222" stroke-width="1" />
<text x="46.4" y="428" font-size="8.2" fill="#222" stroke="#222" stroke-width="0.22" text-anchor="middle" font-family='"Liberation Serif", serif' >0</text>
<line x1="69.3" y1="415.7" x2="69.3" y2="418.9" stroke="#222" stroke-width="1" />
<text x="70.5" y="428" font-size="8.2" fill="#222" stroke="#222" stroke-width="0.22" text-anchor="middle" font-family='"Liberation Serif", serif' >1</text>
<line x1="93.4" y1="415.7" x2="93.4" y2="418.9" stroke="#222" stroke-width="1" />
<text x="94.6" y="428" font-size="8.2" fill="#222" stroke="#222" stroke-width="0.22" text-anchor="middle" font-family='"Liberation Serif", serif' >2</text>
<line x1="117.5" y1="415.7" x2="117.5" y2="418.9" stroke="#222" stroke-width="1" />
<text x="118.7" y="428" font-size="8.2" fill="#222" stroke="#222" stroke-width="0.22" text-anchor="middle" font-family='"Liberation Serif", serif' >3</text>
<line x1="141.6" y1="415.7" x2="141.6" y2="418.9" stroke="#222" stroke-width="1" />
<text x="142.8" y="428" font-size="8.2" fill="#222" stroke="#222" stroke-width="0.22" text-anchor="middle" font-family='"Liberation Serif", serif' >4</text>
<line x1="165.7" y1="415.7" x2="165.7" y2="418.9" stroke="#222" stroke-width="1" />
<text x="166.9" y="428" font-size="8.2" fill="#222" stroke="#222" stroke-width="0.22" text-anchor="middle" font-family='"Liberation Serif", serif' >5</text>
<line x1="189.8" y1="415.7" x2="189.8" y2="418.9" stroke="#222" stroke-width="1" />
<text x="191" y="428" font-size="8.2" fill="#222" stroke="#222" stroke-width="0.22" text-anchor="middle" font-family='"Liberation Serif", serif' >6</text>
<line x1="213.9" y1="415.7" x2="213.9" y2="418.9" stroke="#222" stroke-width="1" />
<text x="215.1" y="428" font-size="8.2" fill="#222" stroke="#222" stroke-width="0.22" text-anchor="middle" font-family='"Liberation Serif", serif' >7</text>
<line x1="238" y1="415.7" x2="238" y2="418.9" stroke="#222" stroke-width="1" />
<text x="239.2" y="428" font-size="8.2" fill="#222" stroke="#222" stroke-width="0.22" text-anchor="middle" font-family='"Liberation Serif", serif' >8</text>
<line x1="57.25" y1="415.7" x2="57.25" y2="417.5" stroke="#222" stroke-width="1" />
<line x1="57.25" y1="250.6" x2="57.25" y2="252.4" stroke="#222" stroke-width="1" />
<line x1="81.35" y1="415.7" x2="81.35" y2="417.5" stroke="#222" stroke-width="1" />
<line x1="81.35" y1="250.6" x2="81.35" y2="252.4" stroke="#222" stroke-width="1" />
<line x1="105.45" y1="415.7" x2="105.45" y2="417.5" stroke="#222" stroke-width="1" />
<line x1="105.45" y1="250.6" x2="105.45" y2="252.4" stroke="#222" stroke-width="1" />
<line x1="129.55" y1="415.7" x2="129.55" y2="417.5" stroke="#222" stroke-width="1" />
<line x1="129.55" y1="250.6" x2="129.55" y2="252.4" stroke="#222" stroke-width="1" />
<line x1="153.65" y1="415.7" x2="153.65" y2="417.5" stroke="#222" stroke-width="1" />
<line x1="153.65" y1="250.6" x2="153.65" y2="252.4" stroke="#222" stroke-width="1" />
<line x1="177.75" y1="415.7" x2="177.75" y2="417.5" stroke="#222" stroke-width="1" />
<line x1="177.75" y1="250.6" x2="177.75" y2="252.4" stroke="#222" stroke-width="1" />
<line x1="201.85" y1="415.7" x2="201.85" y2="417.5" stroke="#222" stroke-width="1" />
<line x1="201.85" y1="250.6" x2="201.85" y2="252.4" stroke="#222" stroke-width="1" />
<line x1="225.95" y1="415.7" x2="225.95" y2="417.5" stroke="#222" stroke-width="1" />
<line x1="225.95" y1="250.6" x2="225.95" y2="252.4" stroke="#222" stroke-width="1" />
<line x1="45.2" y1="250.6" x2="45.2" y2="253.6" stroke="#222" stroke-width="1" />
<text x="45.2" y="248.1" font-size="7.5" fill="#222" stroke="#222" stroke-width="0.22" text-anchor="middle" font-family='"Liberation Serif", serif' >6.60</text>
<line x1="69.3" y1="250.6" x2="69.3" y2="253.6" stroke="#222" stroke-width="1" />
<text x="69.3" y="248.1" font-size="7.5" fill="#222" stroke="#222" stroke-width="0.22" text-anchor="middle" font-family='"Liberation Serif", serif' >6.79</text>
<line x1="93.4" y1="250.6" x2="93.4" y2="253.6" stroke="#222" stroke-width="1" />
<text x="93.4" y="248.1" font-size="7.5" fill="#222" stroke="#222" stroke-width="0.22" text-anchor="middle" font-family='"Liberation Serif", serif' >7.15</text>
<line x1="117.5" y1="250.6" x2="117.5" y2="253.6" stroke="#222" stroke-width="1" />
<text x="117.5" y="248.1" font-size="7.5" fill="#222" stroke="#222" stroke-width="0.22" text-anchor="middle" font-family='"Liberation Serif", serif' >7.33</text>
<line x1="141.6" y1="250.6" x2="141.6" y2="253.6" stroke="#222" stroke-width="1" />
<text x="141.6" y="248.1" font-size="7.5" fill="#222" stroke="#222" stroke-width="0.22" text-anchor="middle" font-family='"Liberation Serif", serif' >7.61</text>
<line x1="165.7" y1="250.6" x2="165.7" y2="253.6" stroke="#222" stroke-width="1" />
<text x="165.7" y="248.1" font-size="7.5" fill="#222" stroke="#222" stroke-width="0.22" text-anchor="middle" font-family='"Liberation Serif", serif' >7.82</text>
<line x1="189.8" y1="250.6" x2="189.8" y2="253.6" stroke="#222" stroke-width="1" />
<text x="189.8" y="248.1" font-size="7.5" fill="#222" stroke="#222" stroke-width="0.22" text-anchor="middle" font-family='"Liberation Serif", serif' >7.93</text>
<line x1="213.9" y1="250.6" x2="213.9" y2="253.6" stroke="#222" stroke-width="1" />
<text x="213.9" y="248.1" font-size="7.5" fill="#222" stroke="#222" stroke-width="0.22" text-anchor="middle" font-family='"Liberation Serif", serif' >8.09</text>
<line x1="30.3" y1="409.08" x2="33.3" y2="409.08" stroke="#c8285e" stroke-width="1" />
<text x="26.9" y="411.88" font-size="7.6" fill="#d04a76" stroke="#d04a76" stroke-width="0.22" text-anchor="end" font-family='"Liberation Serif", serif' >10</text>
<line x1="30.3" y1="397.76" x2="33.3" y2="397.76" stroke="#c8285e" stroke-width="1" />
<text x="26.9" y="400.56" font-size="7.6" fill="#d04a76" stroke="#d04a76" stroke-width="0.22" text-anchor="end" font-family='"Liberation Serif", serif' >15</text>
<line x1="30.3" y1="386.44" x2="33.3" y2="386.44" stroke="#c8285e" stroke-width="1" />
<text x="26.9" y="389.24" font-size="7.6" fill="#d04a76" stroke="#d04a76" stroke-width="0.22" text-anchor="end" font-family='"Liberation Serif", serif' >20</text>
<line x1="30.3" y1="375.12" x2="33.3" y2="375.12" stroke="#c8285e" stroke-width="1" />
<text x="26.9" y="377.92" font-size="7.6" fill="#d04a76" stroke="#d04a76" stroke-width="0.22" text-anchor="end" font-family='"Liberation Serif", serif' >25</text>
<line x1="30.3" y1="363.8" x2="33.3" y2="363.8" stroke="#c8285e" stroke-width="1" />
<text x="26.9" y="366.6" font-size="7.6" fill="#d04a76" stroke="#d04a76" stroke-width="0.22" text-anchor="end" font-family='"Liberation Serif", serif' >30</text>
<line x1="30.3" y1="352.48" x2="33.3" y2="352.48" stroke="#c8285e" stroke-width="1" />
<text x="26.9" y="355.28" font-size="7.6" fill="#d04a76" stroke="#d04a76" stroke-width="0.22" text-anchor="end" font-family='"Liberation Serif", serif' >35</text>
<line x1="30.3" y1="341.16" x2="33.3" y2="341.16" stroke="#c8285e" stroke-width="1" />
<text x="26.9" y="343.96" font-size="7.6" fill="#d04a76" stroke="#d04a76" stroke-width="0.22" text-anchor="end" font-family='"Liberation Serif", serif' >40</text>
<line x1="30.3" y1="329.84" x2="33.3" y2="329.84" stroke="#c8285e" stroke-width="1" />
<text x="26.9" y="332.64" font-size="7.6" fill="#d04a76" stroke="#d04a76" stroke-width="0.22" text-anchor="end" font-family='"Liberation Serif", serif' >45</text>
<line x1="30.3" y1="318.52" x2="33.3" y2="318.52" stroke="#c8285e" stroke-width="1" />
<text x="26.9" y="321.32" font-size="7.6" fill="#d04a76" stroke="#d04a76" stroke-width="0.22" text-anchor="end" font-family='"Liberation Serif", serif' >50</text>
<line x1="30.3" y1="307.2" x2="33.3" y2="307.2" stroke="#c8285e" stroke-width="1" />
<text x="26.9" y="310" font-size="7.6" fill="#d04a76" stroke="#d04a76" stroke-width="0.22" text-anchor="end" font-family='"Liberation Serif", serif' >55</text>
<line x1="30.3" y1="295.88" x2="33.3" y2="295.88" stroke="#c8285e" stroke-width="1" />
<text x="26.9" y="298.68" font-size="7.6" fill="#d04a76" stroke="#d04a76" stroke-width="0.22" text-anchor="end" font-family='"Liberation Serif", serif' >60</text>
<line x1="30.3" y1="284.56" x2="33.3" y2="284.56" stroke="#c8285e" stroke-width="1" />
<text x="26.9" y="287.36" font-size="7.6" fill="#d04a76" stroke="#d04a76" stroke-width="0.22" text-anchor="end" font-family='"Liberation Serif", serif' >65</text>
<line x1="30.3" y1="273.24" x2="33.3" y2="273.24" stroke="#c8285e" stroke-width="1" />
<text x="26.9" y="276.04" font-size="7.6" fill="#d04a76" stroke="#d04a76" stroke-width="0.22" text-anchor="end" font-family='"Liberation Serif", serif' >70</text>
<line x1="30.3" y1="261.92" x2="33.3" y2="261.92" stroke="#c8285e" stroke-width="1" />
<text x="26.9" y="264.72" font-size="7.6" fill="#d04a76" stroke="#d04a76" stroke-width="0.22" text-anchor="end" font-family='"Liberation Serif", serif' >75</text>
<line x1="30.3" y1="250.6" x2="33.3" y2="250.6" stroke="#c8285e" stroke-width="1" />
<text x="26.9" y="253.4" font-size="7.6" fill="#d04a76" stroke="#d04a76" stroke-width="0.22" text-anchor="end" font-family='"Liberation Serif", serif' >80</text>
<line x1="31.8" y1="414.74" x2="33.3" y2="414.74" stroke="#c8285e" stroke-width="1" />
<line x1="31.8" y1="403.42" x2="33.3" y2="403.42" stroke="#c8285e" stroke-width="1" />
<line x1="31.8" y1="392.1" x2="33.3" y2="392.1" stroke="#c8285e" stroke-width="1" />
<line x1="31.8" y1="380.78" x2="33.3" y2="380.78" stroke="#c8285e" stroke-width="1" />
<line x1="31.8" y1="369.46" x2="33.3" y2="369.46" stroke="#c8285e" stroke-width="1" />
<line x1="31.8" y1="358.14" x2="33.3" y2="358.14" stroke="#c8285e" stroke-width="1" />
<line x1="31.8" y1="346.82" x2="33.3" y2="346.82" stroke="#c8285e" stroke-width="1" />
<line x1="31.8" y1="335.5" x2="33.3" y2="335.5" stroke="#c8285e" stroke-width="1" />
<line x1="31.8" y1="324.18" x2="33.3" y2="324.18" stroke="#c8285e" stroke-width="1" />
<line x1="31.8" y1="312.86" x2="33.3" y2="312.86" stroke="#c8285e" stroke-width="1" />
<line x1="31.8" y1="301.54" x2="33.3" y2="301.54" stroke="#c8285e" stroke-width="1" />
<line x1="31.8" y1="290.22" x2="33.3" y2="290.22" stroke="#c8285e" stroke-width="1" />
<line x1="31.8" y1="278.9" x2="33.3" y2="278.9" stroke="#c8285e" stroke-width="1" />
<line x1="31.8" y1="267.58" x2="33.3" y2="267.58" stroke="#c8285e" stroke-width="1" />
<line x1="31.8" y1="256.26" x2="33.3" y2="256.26" stroke="#c8285e" stroke-width="1" />
<line x1="235.6" y1="415.6" x2="238.1" y2="415.6" stroke="#5a5aaa" stroke-width="1" />
<text x="241.6" y="418.5" font-size="8.3" fill="#7a7ac0" stroke="#7a7ac0" stroke-width="0.22" text-anchor="start" font-family='"Liberation Serif", serif' >1.4</text>
<line x1="235.6" y1="394.9" x2="238.1" y2="394.9" stroke="#5a5aaa" stroke-width="1" />
<text x="241.6" y="397.8" font-size="8.3" fill="#7a7ac0" stroke="#7a7ac0" stroke-width="0.22" text-anchor="start" font-family='"Liberation Serif", serif' >1.6</text>
<line x1="235.6" y1="374.2" x2="238.1" y2="374.2" stroke="#5a5aaa" stroke-width="1" />
<text x="241.6" y="377.1" font-size="8.3" fill="#7a7ac0" stroke="#7a7ac0" stroke-width="0.22" text-anchor="start" font-family='"Liberation Serif", serif' >1.8</text>
<line x1="235.6" y1="353.5" x2="238.1" y2="353.5" stroke="#5a5aaa" stroke-width="1" />
<text x="241.6" y="356.4" font-size="8.3" fill="#7a7ac0" stroke="#7a7ac0" stroke-width="0.22" text-anchor="start" font-family='"Liberation Serif", serif' >2.0</text>
<line x1="235.6" y1="332.8" x2="238.1" y2="332.8" stroke="#5a5aaa" stroke-width="1" />
<text x="241.6" y="335.7" font-size="8.3" fill="#7a7ac0" stroke="#7a7ac0" stroke-width="0.22" text-anchor="start" font-family='"Liberation Serif", serif' >2.2</text>
<line x1="235.6" y1="312.1" x2="238.1" y2="312.1" stroke="#5a5aaa" stroke-width="1" />
<text x="241.6" y="315" font-size="8.3" fill="#7a7ac0" stroke="#7a7ac0" stroke-width="0.22" text-anchor="start" font-family='"Liberation Serif", serif' >2.4</text>
<line x1="235.6" y1="291.4" x2="238.1" y2="291.4" stroke="#5a5aaa" stroke-width="1" />
<text x="241.6" y="294.3" font-size="8.3" fill="#7a7ac0" stroke="#7a7ac0" stroke-width="0.22" text-anchor="start" font-family='"Liberation Serif", serif' >2.6</text>
<line x1="235.6" y1="270.7" x2="238.1" y2="270.7" stroke="#5a5aaa" stroke-width="1" />
<text x="241.6" y="273.6" font-size="8.3" fill="#7a7ac0" stroke="#7a7ac0" stroke-width="0.22" text-anchor="start" font-family='"Liberation Serif", serif' >2.8</text>
<line x1="235.6" y1="250" x2="238.1" y2="250" stroke="#5a5aaa" stroke-width="1" />
<text x="241.6" y="252.9" font-size="8.3" fill="#7a7ac0" stroke="#7a7ac0" stroke-width="0.22" text-anchor="start" font-family='"Liberation Serif", serif' >3.0</text>
<line x1="236.6" y1="405.25" x2="238.1" y2="405.25" stroke="#5a5aaa" stroke-width="1" />
<line x1="236.6" y1="384.55" x2="238.1" y2="384.55" stroke="#5a5aaa" stroke-width="1" />
<line x1="236.6" y1="363.85" x2="238.1" y2="363.85" stroke="#5a5aaa" stroke-width="1" />
<line x1="236.6" y1="343.15" x2="238.1" y2="343.15" stroke="#5a5aaa" stroke-width="1" />
<line x1="236.6" y1="322.45" x2="238.1" y2="322.45" stroke="#5a5aaa" stroke-width="1" />
<line x1="236.6" y1="301.75" x2="238.1" y2="301.75" stroke="#5a5aaa" stroke-width="1" />
<line x1="236.6" y1="281.05" x2="238.1" y2="281.05" stroke="#5a5aaa" stroke-width="1" />
<line x1="236.6" y1="260.35" x2="238.1" y2="260.35" stroke="#5a5aaa" stroke-width="1" />
<line x1="32.8" y1="250.6" x2="238.1" y2="250.6" stroke="#1e1e1e" stroke-width="1.5" />
<line x1="32.8" y1="415.7" x2="238.1" y2="415.7" stroke="#1e1e1e" stroke-width="1.5" />
<line x1="33.3" y1="250" x2="33.3" y2="416.3" stroke="#c8285e" stroke-width="1.4" />
<line x1="238.1" y1="250" x2="238.1" y2="416.3" stroke="#5a5aaa" stroke-width="1.3" />
<text x="12.4" y="321.2" font-size="10.1" fill="#d0386a" stroke="#d0386a" stroke-width="0.22" text-anchor="middle" font-family='"Liberation Serif", serif' transform="rotate(-90 12.4 321.2)">TVB-N (mg/100g)</text>
<text x="265" y="315" font-size="12" fill="#6c6cb8" stroke="#6c6cb8" stroke-width="0.3" text-anchor="middle" font-family='"Liberation Serif", serif' transform="rotate(-90 265 315)">A<tspan font-size="9" dy="1.5">527</tspan><tspan dy="-1.5">/A</tspan><tspan font-size="9" dy="1.5">700</tspan></text>
<text x="138.6" y="236.8" font-size="11.5" fill="#222" stroke="#222" stroke-width="0.22" text-anchor="middle" font-family='"Liberation Serif", serif' >pH</text>
<text x="141.3" y="439.5" font-size="12" fill="#222" stroke="#222" stroke-width="0.22" text-anchor="middle" font-family='"Liberation Serif", serif' >Storage time (d)</text>
<text x="10" y="236.6" font-size="12" fill="#1a1a1a" stroke="#1a1a1a" stroke-width="0.15" text-anchor="start" font-family='"Liberation Serif", serif' >C</text>
<line x1="44.3" y1="276.8" x2="61.3" y2="276.8" stroke="#474747" stroke-width="1" />
<rect x="51.05" y="275.1" width="3.5" height="3.4" fill="#fff" stroke="#c83a66" stroke-width="1.3"/>
<text x="66.5" y="279.8" font-size="8.6" fill="#2a2a2a" stroke="#2a2a2a" stroke-width="0.15" text-anchor="start" font-family='"Liberation Serif", serif' >TVB-N</text>
<line x1="44.3" y1="288.4" x2="61.3" y2="288.4" stroke="#474747" stroke-width="1" />
<circle cx="52.8" cy="288.4" r="2.2" fill="#fff" stroke="#7e80c8" stroke-width="1.2"/>
<line x1="51" y1="288.4" x2="54.6" y2="288.4" stroke="#7e80c8" stroke-width="0.8" />
<text x="66.5" y="291.3" font-size="8.6" fill="#2a2a2a" stroke="#2a2a2a" stroke-width="0.15" font-family='"Liberation Serif", serif'>A<tspan font-size="8.8" dy="2.0">527</tspan><tspan dy="-2.0">/A</tspan><tspan font-size="8.8" dy="2.0">700</tspan></text>
<rect x="313" y="252.4" width="100.96" height="162.6" fill="#d8ecf0"/>
<rect x="413.96" y="252.4" width="100.44" height="162.6" fill="#f9f2c6"/>
<line x1="313.8" y1="370.49" x2="513.9" y2="370.49" stroke="#e8262a" stroke-width="1.35" stroke-dasharray="1.35 1.21"/>
<polyline points="333.1,407 373.38,391.5 413.66,368.7 453.94,336 494.22,281" fill="none" stroke="#474747" stroke-width="1.08"/>
<polyline points="333.1,385 373.38,344.4 413.66,325 453.94,313.5 494.22,282" fill="none" stroke="#474747" stroke-width="1.08"/>
<rect x="331.35" y="405.3" width="3.5" height="3.4" fill="#fff" stroke="#4a66bc" stroke-width="1.3"/>
<rect x="371.63" y="389.8" width="3.5" height="3.4" fill="#fff" stroke="#4a66bc" stroke-width="1.3"/>
<line x1="413.66" y1="363.7" x2="413.66" y2="373.7" stroke="#4a66bc" stroke-width="0.9" />
<line x1="411.86" y1="363.7" x2="415.46" y2="363.7" stroke="#4a66bc" stroke-width="0.9" />
<line x1="411.86" y1="373.7" x2="415.46" y2="373.7" stroke="#4a66bc" stroke-width="0.9" />
<rect x="411.91" y="367" width="3.5" height="3.4" fill="#fff" stroke="#4a66bc" stroke-width="1.3"/>
<rect x="452.19" y="334.3" width="3.5" height="3.4" fill="#fff" stroke="#4a66bc" stroke-width="1.3"/>
<line x1="494.22" y1="275.5" x2="494.22" y2="286.5" stroke="#4a66bc" stroke-width="0.9" />
<line x1="492.42" y1="275.5" x2="496.02" y2="275.5" stroke="#4a66bc" stroke-width="0.9" />
<line x1="492.42" y1="286.5" x2="496.02" y2="286.5" stroke="#4a66bc" stroke-width="0.9" />
<rect x="492.47" y="279.3" width="3.5" height="3.4" fill="#fff" stroke="#4a66bc" stroke-width="1.3"/>
<line x1="333.1" y1="381.2" x2="333.1" y2="388.8" stroke="#e0683e" stroke-width="0.9" />
<line x1="331.3" y1="381.2" x2="334.9" y2="381.2" stroke="#e0683e" stroke-width="0.9" />
<line x1="331.3" y1="388.8" x2="334.9" y2="388.8" stroke="#e0683e" stroke-width="0.9" />
<circle cx="333.1" cy="385" r="2.3" fill="#fff" stroke="#e0683e" stroke-width="1.15"/>
<line x1="331.2" y1="385" x2="335" y2="385" stroke="#e0683e" stroke-width="0.9" />
<line x1="373.38" y1="341.1" x2="373.38" y2="347.7" stroke="#e0683e" stroke-width="0.9" />
<line x1="371.58" y1="341.1" x2="375.18" y2="341.1" stroke="#e0683e" stroke-width="0.9" />
<line x1="371.58" y1="347.7" x2="375.18" y2="347.7" stroke="#e0683e" stroke-width="0.9" />
<circle cx="373.38" cy="344.4" r="2.3" fill="#fff" stroke="#e0683e" stroke-width="1.15"/>
<line x1="371.48" y1="344.4" x2="375.28" y2="344.4" stroke="#e0683e" stroke-width="0.9" />
<line x1="413.66" y1="323" x2="413.66" y2="327" stroke="#e0683e" stroke-width="0.9" />
<line x1="411.86" y1="323" x2="415.46" y2="323" stroke="#e0683e" stroke-width="0.9" />
<line x1="411.86" y1="327" x2="415.46" y2="327" stroke="#e0683e" stroke-width="0.9" />
<circle cx="413.66" cy="325" r="2.3" fill="#fff" stroke="#e0683e" stroke-width="1.15"/>
<line x1="411.76" y1="325" x2="415.56" y2="325" stroke="#e0683e" stroke-width="0.9" />
<line x1="453.94" y1="310.2" x2="453.94" y2="316.8" stroke="#e0683e" stroke-width="0.9" />
<line x1="452.14" y1="310.2" x2="455.74" y2="310.2" stroke="#e0683e" stroke-width="0.9" />
<line x1="452.14" y1="316.8" x2="455.74" y2="316.8" stroke="#e0683e" stroke-width="0.9" />
<circle cx="453.94" cy="313.5" r="2.3" fill="#fff" stroke="#e0683e" stroke-width="1.15"/>
<line x1="452.04" y1="313.5" x2="455.84" y2="313.5" stroke="#e0683e" stroke-width="0.9" />
<line x1="494.22" y1="278.4" x2="494.22" y2="285.6" stroke="#e0683e" stroke-width="0.9" />
<line x1="492.42" y1="278.4" x2="496.02" y2="278.4" stroke="#e0683e" stroke-width="0.9" />
<line x1="492.42" y1="285.6" x2="496.02" y2="285.6" stroke="#e0683e" stroke-width="0.9" />
<circle cx="494.22" cy="282" r="2.3" fill="#fff" stroke="#e0683e" stroke-width="1.15"/>
<line x1="492.32" y1="282" x2="496.12" y2="282" stroke="#e0683e" stroke-width="0.9" />
<line x1="333.1" y1="415" x2="333.1" y2="418.2" stroke="#222" stroke-width="1" />
<text x="333.1" y="426.5" font-size="8.2" fill="#222" stroke="#222" stroke-width="0.22" text-anchor="middle" font-family='"Liberation Serif", serif' >0</text>
<line x1="373.38" y1="415" x2="373.38" y2="418.2" stroke="#222" stroke-width="1" />
<text x="373.38" y="426.5" font-size="8.2" fill="#222" stroke="#222" stroke-width="0.22" text-anchor="middle" font-family='"Liberation Serif", serif' >8</text>
<line x1="413.66" y1="415" x2="413.66" y2="418.2" stroke="#222" stroke-width="1" />
<text x="413.66" y="426.5" font-size="8.2" fill="#222" stroke="#222" stroke-width="0.22" text-anchor="middle" font-family='"Liberation Serif", serif' >16</text>
<line x1="453.94" y1="415" x2="453.94" y2="418.2" stroke="#222" stroke-width="1" />
<text x="453.94" y="426.5" font-size="8.2" fill="#222" stroke="#222" stroke-width="0.22" text-anchor="middle" font-family='"Liberation Serif", serif' >24</text>
<line x1="494.22" y1="415" x2="494.22" y2="418.2" stroke="#222" stroke-width="1" />
<text x="494.22" y="426.5" font-size="8.2" fill="#222" stroke="#222" stroke-width="0.22" text-anchor="middle" font-family='"Liberation Serif", serif' >48</text>
<line x1="353.24" y1="415" x2="353.24" y2="416.8" stroke="#222" stroke-width="1" />
<line x1="353.24" y1="252.4" x2="353.24" y2="254.2" stroke="#222" stroke-width="1" />
<line x1="393.52" y1="415" x2="393.52" y2="416.8" stroke="#222" stroke-width="1" />
<line x1="393.52" y1="252.4" x2="393.52" y2="254.2" stroke="#222" stroke-width="1" />
<line x1="433.8" y1="415" x2="433.8" y2="416.8" stroke="#222" stroke-width="1" />
<line x1="433.8" y1="252.4" x2="433.8" y2="254.2" stroke="#222" stroke-width="1" />
<line x1="474.08" y1="415" x2="474.08" y2="416.8" stroke="#222" stroke-width="1" />
<line x1="474.08" y1="252.4" x2="474.08" y2="254.2" stroke="#222" stroke-width="1" />
<line x1="333.1" y1="252.4" x2="333.1" y2="255.4" stroke="#222" stroke-width="1" />
<text x="333.1" y="249.9" font-size="7.5" fill="#222" stroke="#222" stroke-width="0.22" text-anchor="middle" font-family='"Liberation Serif", serif' >6.59</text>
<line x1="373.38" y1="252.4" x2="373.38" y2="255.4" stroke="#222" stroke-width="1" />
<text x="373.38" y="249.9" font-size="7.5" fill="#222" stroke="#222" stroke-width="0.22" text-anchor="middle" font-family='"Liberation Serif", serif' >7.15</text>
<line x1="413.66" y1="252.4" x2="413.66" y2="255.4" stroke="#222" stroke-width="1" />
<text x="413.66" y="249.9" font-size="7.5" fill="#222" stroke="#222" stroke-width="0.22" text-anchor="middle" font-family='"Liberation Serif", serif' >7.54</text>
<line x1="453.94" y1="252.4" x2="453.94" y2="255.4" stroke="#222" stroke-width="1" />
<text x="453.94" y="249.9" font-size="7.5" fill="#222" stroke="#222" stroke-width="0.22" text-anchor="middle" font-family='"Liberation Serif", serif' >7.85</text>
<line x1="494.22" y1="252.4" x2="494.22" y2="255.4" stroke="#222" stroke-width="1" />
<text x="494.22" y="249.9" font-size="7.5" fill="#222" stroke="#222" stroke-width="0.22" text-anchor="middle" font-family='"Liberation Serif", serif' >8.02</text>
<line x1="310" y1="404.39" x2="313" y2="404.39" stroke="#3252a6" stroke-width="1" />
<text x="307.1" y="407.19" font-size="7.6" fill="#4a5cae" stroke="#4a5cae" stroke-width="0.22" text-anchor="end" font-family='"Liberation Serif", serif' >10</text>
<line x1="310" y1="387.44" x2="313" y2="387.44" stroke="#3252a6" stroke-width="1" />
<text x="307.1" y="390.24" font-size="7.6" fill="#4a5cae" stroke="#4a5cae" stroke-width="0.22" text-anchor="end" font-family='"Liberation Serif", serif' >15</text>
<line x1="310" y1="370.49" x2="313" y2="370.49" stroke="#3252a6" stroke-width="1" />
<text x="307.1" y="373.29" font-size="7.6" fill="#4a5cae" stroke="#4a5cae" stroke-width="0.22" text-anchor="end" font-family='"Liberation Serif", serif' >20</text>
<line x1="310" y1="353.53" x2="313" y2="353.53" stroke="#3252a6" stroke-width="1" />
<text x="307.1" y="356.33" font-size="7.6" fill="#4a5cae" stroke="#4a5cae" stroke-width="0.22" text-anchor="end" font-family='"Liberation Serif", serif' >25</text>
<line x1="310" y1="336.58" x2="313" y2="336.58" stroke="#3252a6" stroke-width="1" />
<text x="307.1" y="339.38" font-size="7.6" fill="#4a5cae" stroke="#4a5cae" stroke-width="0.22" text-anchor="end" font-family='"Liberation Serif", serif' >30</text>
<line x1="310" y1="319.62" x2="313" y2="319.62" stroke="#3252a6" stroke-width="1" />
<text x="307.1" y="322.42" font-size="7.6" fill="#4a5cae" stroke="#4a5cae" stroke-width="0.22" text-anchor="end" font-family='"Liberation Serif", serif' >35</text>
<line x1="310" y1="302.67" x2="313" y2="302.67" stroke="#3252a6" stroke-width="1" />
<text x="307.1" y="305.47" font-size="7.6" fill="#4a5cae" stroke="#4a5cae" stroke-width="0.22" text-anchor="end" font-family='"Liberation Serif", serif' >40</text>
<line x1="310" y1="285.71" x2="313" y2="285.71" stroke="#3252a6" stroke-width="1" />
<text x="307.1" y="288.51" font-size="7.6" fill="#4a5cae" stroke="#4a5cae" stroke-width="0.22" text-anchor="end" font-family='"Liberation Serif", serif' >45</text>
<line x1="310" y1="268.75" x2="313" y2="268.75" stroke="#3252a6" stroke-width="1" />
<text x="307.1" y="271.56" font-size="7.6" fill="#4a5cae" stroke="#4a5cae" stroke-width="0.22" text-anchor="end" font-family='"Liberation Serif", serif' >50</text>
<line x1="310" y1="251.8" x2="313" y2="251.8" stroke="#3252a6" stroke-width="1" />
<text x="307.1" y="254.6" font-size="7.6" fill="#4a5cae" stroke="#4a5cae" stroke-width="0.22" text-anchor="end" font-family='"Liberation Serif", serif' >55</text>
<line x1="311.5" y1="412.87" x2="313" y2="412.87" stroke="#3252a6" stroke-width="1" />
<line x1="311.5" y1="395.92" x2="313" y2="395.92" stroke="#3252a6" stroke-width="1" />
<line x1="311.5" y1="378.96" x2="313" y2="378.96" stroke="#3252a6" stroke-width="1" />
<line x1="311.5" y1="362.01" x2="313" y2="362.01" stroke="#3252a6" stroke-width="1" />
<line x1="311.5" y1="345.05" x2="313" y2="345.05" stroke="#3252a6" stroke-width="1" />
<line x1="311.5" y1="328.1" x2="313" y2="328.1" stroke="#3252a6" stroke-width="1" />
<line x1="311.5" y1="311.14" x2="313" y2="311.14" stroke="#3252a6" stroke-width="1" />
<line x1="311.5" y1="294.19" x2="313" y2="294.19" stroke="#3252a6" stroke-width="1" />
<line x1="311.5" y1="277.23" x2="313" y2="277.23" stroke="#3252a6" stroke-width="1" />
<line x1="311.5" y1="260.28" x2="313" y2="260.28" stroke="#3252a6" stroke-width="1" />
<line x1="511.9" y1="414.76" x2="514.4" y2="414.76" stroke="#e0582a" stroke-width="1" />
<text x="517.9" y="417.66" font-size="8.3" fill="#222" stroke="#222" stroke-width="0.22" text-anchor="start" font-family='"Liberation Serif", serif' >1.4</text>
<line x1="511.9" y1="387.6" x2="514.4" y2="387.6" stroke="#e0582a" stroke-width="1" />
<text x="517.9" y="390.5" font-size="8.3" fill="#222" stroke="#222" stroke-width="0.22" text-anchor="start" font-family='"Liberation Serif", serif' >1.6</text>
<line x1="511.9" y1="360.44" x2="514.4" y2="360.44" stroke="#e0582a" stroke-width="1" />
<text x="517.9" y="363.34" font-size="8.3" fill="#222" stroke="#222" stroke-width="0.22" text-anchor="start" font-family='"Liberation Serif", serif' >1.8</text>
<line x1="511.9" y1="333.28" x2="514.4" y2="333.28" stroke="#e0582a" stroke-width="1" />
<text x="517.9" y="336.18" font-size="8.3" fill="#222" stroke="#222" stroke-width="0.22" text-anchor="start" font-family='"Liberation Serif", serif' >2.0</text>
<line x1="511.9" y1="306.12" x2="514.4" y2="306.12" stroke="#e0582a" stroke-width="1" />
<text x="517.9" y="309.02" font-size="8.3" fill="#222" stroke="#222" stroke-width="0.22" text-anchor="start" font-family='"Liberation Serif", serif' >2.2</text>
<line x1="511.9" y1="278.96" x2="514.4" y2="278.96" stroke="#e0582a" stroke-width="1" />
<text x="517.9" y="281.86" font-size="8.3" fill="#222" stroke="#222" stroke-width="0.22" text-anchor="start" font-family='"Liberation Serif", serif' >2.4</text>
<line x1="511.9" y1="251.8" x2="514.4" y2="251.8" stroke="#e0582a" stroke-width="1" />
<text x="517.9" y="254.7" font-size="8.3" fill="#222" stroke="#222" stroke-width="0.22" text-anchor="start" font-family='"Liberation Serif", serif' >2.6</text>
<line x1="512.9" y1="401.18" x2="514.4" y2="401.18" stroke="#e0582a" stroke-width="1" />
<line x1="512.9" y1="374.02" x2="514.4" y2="374.02" stroke="#e0582a" stroke-width="1" />
<line x1="512.9" y1="346.86" x2="514.4" y2="346.86" stroke="#e0582a" stroke-width="1" />
<line x1="512.9" y1="319.7" x2="514.4" y2="319.7" stroke="#e0582a" stroke-width="1" />
<line x1="512.9" y1="292.54" x2="514.4" y2="292.54" stroke="#e0582a" stroke-width="1" />
<line x1="512.9" y1="265.38" x2="514.4" y2="265.38" stroke="#e0582a" stroke-width="1" />
<line x1="312.5" y1="252.4" x2="514.4" y2="252.4" stroke="#1e1e1e" stroke-width="1.5" />
<line x1="312.5" y1="415" x2="514.4" y2="415" stroke="#1e1e1e" stroke-width="1.5" />
<line x1="313" y1="251.8" x2="313" y2="415.6" stroke="#3252a6" stroke-width="1.4" />
<line x1="514.4" y1="251.8" x2="514.4" y2="415.6" stroke="#e0582a" stroke-width="1.3" />
<text x="291.2" y="319.9" font-size="10.1" fill="#4460b4" stroke="#4460b4" stroke-width="0.22" text-anchor="middle" font-family='"Liberation Serif", serif' transform="rotate(-90 291.2 319.9)">TVB-N (mg/100g)</text>
<text x="542" y="322" font-size="12" fill="#e66a44" stroke="#e66a44" stroke-width="0.3" text-anchor="middle" font-family='"Liberation Serif", serif' transform="rotate(-90 542 322)">A<tspan font-size="8.5" dy="2.2">527</tspan><tspan dy="-2.2">/A</tspan><tspan font-size="8.5" dy="2.2">700</tspan></text>
<text x="417.2" y="238" font-size="11.5" fill="#222" stroke="#222" stroke-width="0.22" text-anchor="middle" font-family='"Liberation Serif", serif' >pH</text>
<text x="415.8" y="439.3" font-size="12" fill="#222" stroke="#222" stroke-width="0.22" text-anchor="middle" font-family='"Liberation Serif", serif' >Storage time (h)</text>
<text x="283.8" y="236.8" font-size="12" fill="#1a1a1a" stroke="#1a1a1a" stroke-width="0.15" text-anchor="start" font-family='"Liberation Serif", serif' >D</text>
<line x1="333.5" y1="284.6" x2="350.5" y2="284.6" stroke="#474747" stroke-width="1" />
<rect x="340.25" y="282.9" width="3.5" height="3.4" fill="#fff" stroke="#4a66bc" stroke-width="1.3"/>
<text x="355" y="287.6" font-size="8.6" fill="#2a2a2a" stroke="#2a2a2a" stroke-width="0.15" text-anchor="start" font-family='"Liberation Serif", serif' >TVB-N</text>
<line x1="333.5" y1="297.4" x2="350.5" y2="297.4" stroke="#474747" stroke-width="1" />
<circle cx="342" cy="297.4" r="2.2" fill="#fff" stroke="#e0683e" stroke-width="1.2"/>
<line x1="340.2" y1="297.4" x2="343.8" y2="297.4" stroke="#e0683e" stroke-width="0.8" />
<text x="355" y="300.3" font-size="8.6" fill="#2a2a2a" stroke="#2a2a2a" stroke-width="0.15" font-family='"Liberation Serif", serif'>A<tspan font-size="6.2" dy="1.4">527</tspan><tspan dy="-1.4">/A</tspan><tspan font-size="6.2" dy="1.4">700</tspan></text>
</svg></body></html>
